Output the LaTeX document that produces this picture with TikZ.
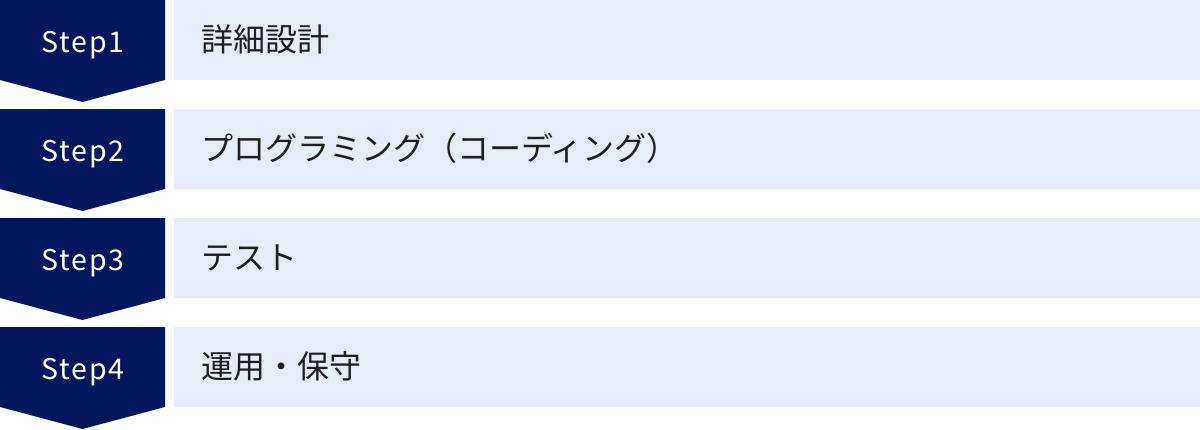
\documentclass[tikz,border=0pt]{standalone}
\usepackage{fontspec}
\newfontfamily\jpfont{Noto Sans CJK JP}
\newfontfamily\stepfont[LetterSpace=6]{Noto Sans CJK JP}
\definecolor{navy}{HTML}{03165E}
\definecolor{pale}{HTML}{E6ECF8}
\begin{document}
\begin{tikzpicture}[x=1pt,y=-1pt,
  chev/.style={fill=navy,draw=none},
  band/.style={fill=pale,draw=none},
  steplabel/.style={text=white,font=\stepfont\fontsize{28.5}{32}\selectfont,inner sep=0pt,anchor=base},
  tasklabel/.style={text=black!88,font=\jpfont\fontsize{32}{36}\selectfont,inner sep=0pt,anchor=base west}]
\useasboundingbox (0,0) rectangle (1200,429);
\foreach \i/\t in {0/詳細設計,1/プログラミング（コーディング）,2/テスト,3/運用・保守}{
  \pgfmathsetmacro\yy{109*\i}
  \fill[chev] (0,\yy) -- (165,\yy) -- (165,\yy+80) -- (82.5,\yy+102) -- (0,\yy+80) -- cycle;
  \fill[band] (174,\yy) rectangle (1200,\yy+80);
  \pgfmathtruncatemacro\n{\i+1}
  \node[steplabel] (step\n) at (83,\yy+52) {Step\n};
  \node[tasklabel] (task\n) at (201,\yy+51) {\t};
}
\end{tikzpicture}
\end{document}
